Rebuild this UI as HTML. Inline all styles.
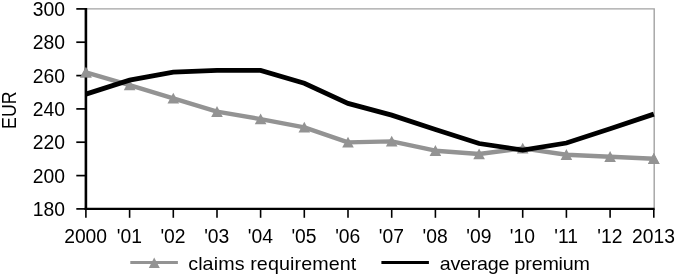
<!DOCTYPE html><html><head><meta charset="utf-8"><title>chart</title><style>html,body{margin:0;padding:0;background:#fff}svg{display:block}text{font-family:"Liberation Sans",Arial,sans-serif;fill:#000}</style></head><body>
<svg width="677" height="276" viewBox="0 0 677 276">
<rect width="677" height="276" fill="#fff"/>
<path d="M85.9,8.9 H654.2 V208.9" fill="none" stroke="#a2a2a2" stroke-width="1.4"/>
<polyline points="85.9,72.4 129.6,85.1 173.3,98.4 217.0,111.7 260.6,119.1 304.3,127.4 348.0,142.4 391.7,141.4 435.4,150.7 479.1,154.0 522.7,148.4 566.4,154.7 610.1,156.7 653.8,158.7" fill="none" stroke="#939393" stroke-width="4.4" stroke-linejoin="round"/>
<g fill="#939393"><polygon points="85.9,66.8 80.1,77.6 91.7,77.6"/><polygon points="129.6,79.5 123.8,90.3 135.4,90.3"/><polygon points="173.3,92.8 167.5,103.6 179.1,103.6"/><polygon points="217.0,106.1 211.2,116.9 222.8,116.9"/><polygon points="260.6,113.5 254.8,124.3 266.4,124.3"/><polygon points="304.3,121.8 298.5,132.6 310.1,132.6"/><polygon points="348.0,136.8 342.2,147.6 353.8,147.6"/><polygon points="391.7,135.8 385.9,146.6 397.5,146.6"/><polygon points="435.4,145.1 429.6,155.9 441.2,155.9"/><polygon points="479.1,148.4 473.3,159.2 484.9,159.2"/><polygon points="522.7,142.8 516.9,153.6 528.5,153.6"/><polygon points="566.4,149.1 560.6,159.9 572.2,159.9"/><polygon points="610.1,151.1 604.3,161.9 615.9,161.9"/><polygon points="653.8,153.1 648.0,163.9 659.6,163.9"/></g>
<line x1="85.9" y1="8.0" x2="85.9" y2="210" stroke="#000" stroke-width="2.6"/>
<line x1="84.60000000000001" y1="208.9" x2="654.6" y2="208.9" stroke="#000" stroke-width="2.2"/>
<line x1="76.3" y1="8.9" x2="85.9" y2="8.9" stroke="#000" stroke-width="1.7"/>
<text transform="translate(65.0,16.1) scale(0.975,1)" text-anchor="end" font-size="19.8" >300</text>
<line x1="76.3" y1="42.2" x2="85.9" y2="42.2" stroke="#000" stroke-width="1.7"/>
<text transform="translate(65.0,49.4) scale(0.975,1)" text-anchor="end" font-size="19.8" >280</text>
<line x1="76.3" y1="75.6" x2="85.9" y2="75.6" stroke="#000" stroke-width="1.7"/>
<text transform="translate(65.0,82.7) scale(0.975,1)" text-anchor="end" font-size="19.8" >260</text>
<line x1="76.3" y1="108.9" x2="85.9" y2="108.9" stroke="#000" stroke-width="1.7"/>
<text transform="translate(65.0,116.0) scale(0.975,1)" text-anchor="end" font-size="19.8" >240</text>
<line x1="76.3" y1="142.2" x2="85.9" y2="142.2" stroke="#000" stroke-width="1.7"/>
<text transform="translate(65.0,149.3) scale(0.975,1)" text-anchor="end" font-size="19.8" >220</text>
<line x1="76.3" y1="175.6" x2="85.9" y2="175.6" stroke="#000" stroke-width="1.7"/>
<text transform="translate(65.0,182.6) scale(0.975,1)" text-anchor="end" font-size="19.8" >200</text>
<line x1="76.3" y1="208.9" x2="85.9" y2="208.9" stroke="#000" stroke-width="1.7"/>
<text transform="translate(65.0,215.9) scale(0.975,1)" text-anchor="end" font-size="19.8" >180</text>
<line x1="85.9" y1="208.9" x2="85.9" y2="217.8" stroke="#000" stroke-width="1.6"/>
<text transform="translate(85.6,242.5) scale(0.975,1)" text-anchor="middle" font-size="19.8" >2000</text>
<line x1="129.6" y1="208.9" x2="129.6" y2="217.8" stroke="#000" stroke-width="1.6"/>
<text transform="translate(129.3,242.5) scale(0.975,1)" text-anchor="middle" font-size="19.8" >'01</text>
<line x1="173.3" y1="208.9" x2="173.3" y2="217.8" stroke="#000" stroke-width="1.6"/>
<text transform="translate(173.0,242.5) scale(0.975,1)" text-anchor="middle" font-size="19.8" >'02</text>
<line x1="217.0" y1="208.9" x2="217.0" y2="217.8" stroke="#000" stroke-width="1.6"/>
<text transform="translate(216.7,242.5) scale(0.975,1)" text-anchor="middle" font-size="19.8" >'03</text>
<line x1="260.6" y1="208.9" x2="260.6" y2="217.8" stroke="#000" stroke-width="1.6"/>
<text transform="translate(260.3,242.5) scale(0.975,1)" text-anchor="middle" font-size="19.8" >'04</text>
<line x1="304.3" y1="208.9" x2="304.3" y2="217.8" stroke="#000" stroke-width="1.6"/>
<text transform="translate(304.0,242.5) scale(0.975,1)" text-anchor="middle" font-size="19.8" >'05</text>
<line x1="348.0" y1="208.9" x2="348.0" y2="217.8" stroke="#000" stroke-width="1.6"/>
<text transform="translate(347.7,242.5) scale(0.975,1)" text-anchor="middle" font-size="19.8" >'06</text>
<line x1="391.7" y1="208.9" x2="391.7" y2="217.8" stroke="#000" stroke-width="1.6"/>
<text transform="translate(391.4,242.5) scale(0.975,1)" text-anchor="middle" font-size="19.8" >'07</text>
<line x1="435.4" y1="208.9" x2="435.4" y2="217.8" stroke="#000" stroke-width="1.6"/>
<text transform="translate(435.1,242.5) scale(0.975,1)" text-anchor="middle" font-size="19.8" >'08</text>
<line x1="479.1" y1="208.9" x2="479.1" y2="217.8" stroke="#000" stroke-width="1.6"/>
<text transform="translate(478.8,242.5) scale(0.975,1)" text-anchor="middle" font-size="19.8" >'09</text>
<line x1="522.7" y1="208.9" x2="522.7" y2="217.8" stroke="#000" stroke-width="1.6"/>
<text transform="translate(522.4,242.5) scale(0.975,1)" text-anchor="middle" font-size="19.8" >'10</text>
<line x1="566.4" y1="208.9" x2="566.4" y2="217.8" stroke="#000" stroke-width="1.6"/>
<text transform="translate(566.1,242.5) scale(0.975,1)" text-anchor="middle" font-size="19.8" >'11</text>
<line x1="610.1" y1="208.9" x2="610.1" y2="217.8" stroke="#000" stroke-width="1.6"/>
<text transform="translate(609.8,242.5) scale(0.975,1)" text-anchor="middle" font-size="19.8" >'12</text>
<line x1="653.8" y1="208.9" x2="653.8" y2="217.8" stroke="#000" stroke-width="1.6"/>
<text transform="translate(653.5,242.5) scale(0.975,1)" text-anchor="middle" font-size="19.8" >2013</text>
<g fill="#939393"><polygon points="85.9,66.8 80.1,77.6 91.7,77.6"/><polygon points="653.8,153.1 648.0,163.9 659.6,163.9"/></g>
<polyline points="85.9,94.1 129.6,80.1 173.3,72.1 217.0,70.4 260.6,70.4 304.3,83.3 348.0,103.4 391.7,115.1 435.4,129.5 479.1,143.5 522.7,150.0 566.4,143.0 610.1,128.7 653.8,114.1" fill="none" stroke="#000" stroke-width="4.8" stroke-linejoin="miter"/>
<text transform="translate(16.2,128.9) rotate(-90) scale(1,1.18)" font-size="17.8">EUR</text>
<line x1="130.3" y1="262.5" x2="177.9" y2="262.5" stroke="#939393" stroke-width="3"/>
<polygon fill="#939393" points="154.2,257.4 148.8,268 159.8,268"/>
<text transform="translate(188.2,269.6) scale(1.12,1)" text-anchor="start" font-size="17.6" textLength="150.1" lengthAdjust="spacing">claims requirement</text>
<line x1="381.4" y1="262.5" x2="428.9" y2="262.5" stroke="#000" stroke-width="3"/>
<text transform="translate(439.7,269.6) scale(1.12,1)" text-anchor="start" font-size="17.6" textLength="134.1" lengthAdjust="spacing">average premium</text>
</svg></body></html>
